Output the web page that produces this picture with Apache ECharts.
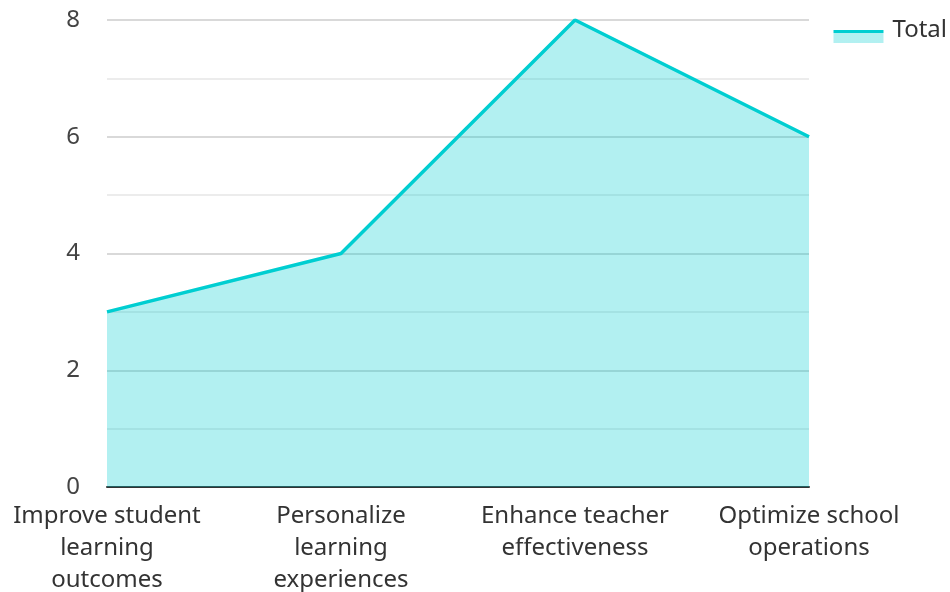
<!DOCTYPE html>
<html>
<head>
<meta charset="utf-8">
<script src="https://cdn.jsdelivr.net/npm/echarts@6/dist/echarts.min.js"></script>
<style>
  html, body { margin: 0; padding: 0; background: #fff; }
  #chart { width: 950px; height: 592px; }
</style>
</head>
<body>
<div id="chart"></div>
<script>
// categories and values
var categories = ["Improve student\nlearning\noutcomes", "Personalize\nlearning\nexperiences", "Enhance teacher\neffectiveness", "Optimize school\noperations"];
var totals = [3, 4, 8, 6];
var yTicks = [0, 2, 4, 6, 8];

var lineColor = "#00CED1";
var areaColor = "rgba(0, 206, 209, 0.3)";

var myChart = echarts.init(document.getElementById("chart"));
var option = {
    animation: false,
    textStyle: { fontFamily: "Noto Sans" },
    grid: { left: 107, right: 141, top: 20, bottom: 105, outerBoundsMode: "none", containLabel: false },
    legend: {
        right: 3,
        top: 17,
        padding: 0,
        itemWidth: 50,
        itemHeight: 26,
        itemGap: 8,
        icon: "rect",
        // upper half empty so the text sits level with the icon's top; then line strip, then area fill
        itemStyle: {
            color: new echarts.graphic.LinearGradient(0, 0, 0, 1, [
                { offset: 0, color: "rgba(255,255,255,0)" },
                { offset: 0.5, color: "rgba(255,255,255,0)" },
                { offset: 0.5, color: lineColor },
                { offset: 0.62, color: lineColor },
                { offset: 0.62, color: areaColor },
                { offset: 1, color: areaColor }
            ])
        },
        textStyle: { fontSize: 24, color: "#333", padding: [0, 0, 0, 4] },
        data: ["Total"]
    },
    xAxis: {
        type: "category",
        data: categories,
        boundaryGap: false,
        axisLine: { lineStyle: { color: "#333", width: 2 } },
        axisTick: { show: false },
        axisLabel: { fontSize: 24, color: "#333", lineHeight: 32, margin: 13, interval: 0 }
    },
    yAxis: {
        type: "value",
        min: 0,
        max: yTicks[yTicks.length - 1],
        interval: 2,
        axisLine: { show: false },
        axisTick: { show: false },
        axisLabel: { fontSize: 24, color: "#444", margin: 27 },
        splitLine: { lineStyle: { color: "#ccc", width: 1.5 } },
        minorTick: { show: false, splitNumber: 2 },
        minorSplitLine: { show: true, lineStyle: { color: "#e6e6e6", width: 1.5 } }
    },
    series: [
        {
            name: "Total",
            type: "line",
            data: totals,
            symbol: "none",
            lineStyle: { color: lineColor, width: 3.5 },
            itemStyle: { color: lineColor },
            areaStyle: { color: lineColor, opacity: 0.3 }
        }
    ]
};
myChart.setOption(option);
</script>
</body>
</html>
